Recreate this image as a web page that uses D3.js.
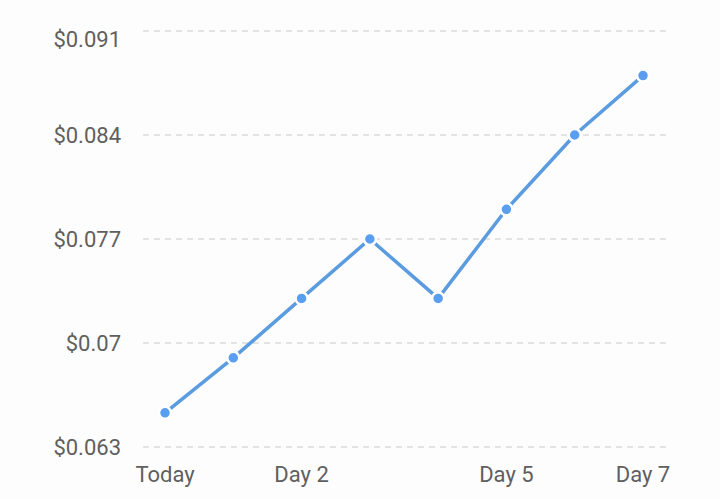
<!DOCTYPE html>
<html><head><meta charset="utf-8">
<script src="https://cdn.jsdelivr.net/npm/d3@7"></script>
<style>html,body{margin:0;padding:0;background:#fdfdfd;}svg{display:block;}</style>
</head><body>
<svg id="c" width="720" height="499"></svg>
<script>
const categories = ["Today","Day 1","Day 2","Day 3","Day 4","Day 5","Day 6","Day 7"];
const shownLabels = ["Today","Day 2","Day 5","Day 7"];
const values = [0.0653,0.0690,0.0730,0.0770,0.0730,0.0790,0.0840,0.0880];
const yTicks = [0.063,0.070,0.077,0.084,0.091];
const yTickLabels = ["$0.063","$0.07","$0.077","$0.084","$0.091"];

const svg = d3.select("#c");
const x = d3.scalePoint().domain(categories).range([165,643]);
const y = d3.scaleLinear().domain([0.063,0.091]).range([447,31]);
const font = "Roboto, 'Noto Sans', sans-serif";

// grid
svg.append("g").selectAll("line").data(yTicks).join("line")
  .attr("x1",143).attr("x2",667)
  .attr("y1",d=>y(d)).attr("y2",d=>y(d))
  .attr("stroke","#e3e3e3").attr("stroke-width",2).attr("stroke-dasharray","6,5");

// y labels (top label kept inside the frame)
svg.append("g").selectAll("text").data(yTicks).join("text")
  .attr("x",121).attr("y",d=>Math.max(y(d),39)).attr("dy","0.36em")
  .attr("text-anchor","end").attr("font-family",font).attr("font-size",22)
  .attr("fill","#5f5f5f").text((d,i)=>yTickLabels[i]);

// x labels
svg.append("g").selectAll("text").data(shownLabels).join("text")
  .attr("x",d=>x(d)).attr("y",482)
  .attr("text-anchor","middle").attr("font-family",font).attr("font-size",22)
  .attr("fill","#5f5f5f").text(d=>d);

// line
const line = d3.line().x((d,i)=>x(categories[i])).y(d=>y(d));
svg.append("path").datum(values).attr("d",line)
  .attr("fill","none").attr("stroke","#5b9be0").attr("stroke-width",3.5);

// points
svg.append("g").selectAll("circle").data(values).join("circle")
  .attr("cx",(d,i)=>x(categories[i])).attr("cy",d=>y(d)).attr("r",6)
  .attr("fill","#5a9ef2").attr("stroke","#ffffff").attr("stroke-width",2.5);
</script>
</body></html>
